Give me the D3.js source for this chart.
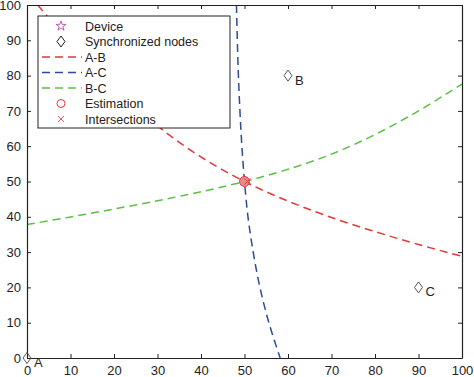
<!DOCTYPE html>
<html>
<head>
<meta charset="utf-8">
<script src="https://cdn.jsdelivr.net/npm/d3@7"></script>
<style>
  body { margin: 0; background: #fff; }
  text { font-family: Arial, "Liberation Sans", sans-serif; }
</style>
</head>
<body>
<div id="chart"></div>
<script>
// node positions and names
var nodes = [
  {name: "A", x: 0, y: 0},
  {name: "B", x: 60, y: 80},
  {name: "C", x: 90, y: 20}
]
var estimation = [50, 50]

// hyperbola curves
var curveAB = [[2.5,100],[3,99.2],[10,89.4],[20,76.7],[30,65.75],[40,56.95],[50,50],[60,44.45],[70,39.8],[80,35.8],[90,32.15],[100,28.8]]
var curveAC = [[48.15,100],[48.35,90],[48.6,80],[48.95,70],[49.4,60],[50,50],[50.8,40],[52,30],[53.55,20],[55.6,10],[58.2,0]]
var curveBC = [[0,37.8],[10,39.95],[20,42.2],[30,44.55],[40,47.1],[50,50],[60,53.45],[70,57.75],[80,63.3],[90,70],[100,77.6]]

var ticks = [0,10,20,30,40,50,60,70,80,90,100]

var legendItems = ["Device", "Synchronized nodes", "A-B", "A-C", "B-C", "Estimation", "Intersections"]
var colors = {ab: "#e0393c", ac: "#2e4a9e", bc: "#5cbf45", est: "#e0393c", dev: "#b23aa8"}

var width = 474, height = 377
var svg = d3.select("#chart").append("svg")
  .attr("width", width)
  .attr("height", height)

var x = d3.scaleLinear().domain([0, 100]).range([27, 462])
var y = d3.scaleLinear().domain([0, 100]).range([358, 5])

svg.append("clipPath").attr("id", "clip")
  .append("rect")
  .attr("x", x(0)).attr("y", y(100))
  .attr("width", x(100) - x(0)).attr("height", y(0) - y(100))

// curves
var line = d3.line()
  .x(function(d) { return x(d[0]) })
  .y(function(d) { return y(d[1]) })
  .curve(d3.curveCatmullRom)

var g = svg.append("g").attr("clip-path", "url(#clip)")
var curves = [[curveAB, colors.ab], [curveAC, colors.ac], [curveBC, colors.bc]]
curves.forEach(function(c) {
  g.append("path")
    .datum(c[0])
    .attr("d", line)
    .attr("fill", "none")
    .attr("stroke", c[1])
    .attr("stroke-width", 1.5)
    .attr("stroke-dasharray", "8,5")
})

// axes (matlab style, ticks inward on all sides)
svg.append("g")
  .attr("transform", "translate(0," + y(0) + ")")
  .call(d3.axisBottom(x).tickValues(ticks).tickSizeInner(-4).tickSizeOuter(0).tickPadding(8))
svg.append("g")
  .attr("transform", "translate(" + x(0) + ",0)")
  .call(d3.axisLeft(y).tickValues(ticks).tickSizeInner(-4).tickSizeOuter(0).tickPadding(6))
svg.append("g")
  .attr("transform", "translate(0," + y(100) + ")")
  .call(d3.axisTop(x).tickValues(ticks).tickSizeInner(-4).tickSizeOuter(0).tickFormat(""))
svg.append("g")
  .attr("transform", "translate(" + x(100) + ",0)")
  .call(d3.axisRight(y).tickValues(ticks).tickSizeInner(-4).tickSizeOuter(0).tickFormat(""))

svg.selectAll(".domain").attr("stroke", "#222").attr("stroke-width", 1.2)
svg.selectAll(".tick line").attr("stroke", "#222")
svg.selectAll(".tick text").style("font-size", "13px").attr("fill", "#222")
  .style("font-family", "Arial, 'Liberation Sans', sans-serif")

// estimation marker + intersections
svg.append("circle")
  .attr("cx", x(estimation[0])).attr("cy", y(estimation[1]))
  .attr("r", 5)
  .attr("fill", "#e88a8a")
  .attr("stroke", colors.est)
  .attr("stroke-width", 1)
var cross = "M-3,-3L3,3M3,-3L-3,3"
svg.append("path")
  .attr("d", cross)
  .attr("transform", "translate(" + (x(estimation[0]) + 3) + "," + y(estimation[1]) + ")")
  .attr("fill", "none")
  .attr("stroke", colors.est)
  .attr("stroke-width", 0.9)

// nodes
var diamond = function(cx, cy) {
  return "M" + cx + "," + (cy - 5.5) + "L" + (cx + 4) + "," + cy + "L" + cx + "," + (cy + 5.5) + "L" + (cx - 4) + "," + cy + "Z"
}
nodes.forEach(function(n) {
  svg.append("path")
    .attr("d", diamond(x(n.x), y(n.y)))
    .attr("fill", "none")
    .attr("stroke", "#555")
    .attr("stroke-width", 1)
  svg.append("text")
    .attr("x", x(n.x) + 7)
    .attr("y", y(n.y) + 9)
    .style("font-size", "13px")
    .attr("fill", "#222")
    .text(n.name)
})

// legend
var leg = svg.append("g")
leg.append("rect")
  .attr("x", 38).attr("y", 16)
  .attr("width", 192).attr("height", 112)
  .attr("fill", "#fff")
  .attr("stroke", "#222")
  .attr("stroke-width", 1)

legendItems.forEach(function(name, i) {
  var ly = 26 + i * 15.5
  var row = leg.append("g")
  if (i == 0) {
    row.append("path")
      .attr("d", d3.symbol().type(d3.symbolStar).size(30))
      .attr("transform", "translate(61," + ly + ")")
      .attr("fill", "none")
      .attr("stroke", colors.dev)
      .attr("stroke-width", 0.8)
  } else if (i == 1) {
    row.append("path")
      .attr("d", diamond(61, ly))
      .attr("fill", "none")
      .attr("stroke", "#222")
  } else if (i <= 4) {
    var c = [colors.ab, colors.ac, colors.bc][i - 2]
    row.append("line")
      .attr("x1", 42).attr("x2", 82)
      .attr("y1", ly).attr("y2", ly)
      .attr("stroke", c)
      .attr("stroke-width", 1.3)
      .attr("stroke-dasharray", "8,5")
  } else if (i == 5) {
    row.append("circle")
      .attr("cx", 61).attr("cy", ly).attr("r", 4)
      .attr("fill", "none").attr("stroke", colors.est)
  } else {
    row.append("path")
      .attr("d", cross)
      .attr("transform", "translate(61," + ly + ")")
      .attr("fill", "none").attr("stroke", colors.est).attr("stroke-width", 0.8)
  }
  row.append("text")
    .attr("x", 85).attr("y", ly + 4.5)
    .style("font-size", "12.5px")
    .attr("fill", "#222")
    .text(name)
})
</script>
</body>
</html>
